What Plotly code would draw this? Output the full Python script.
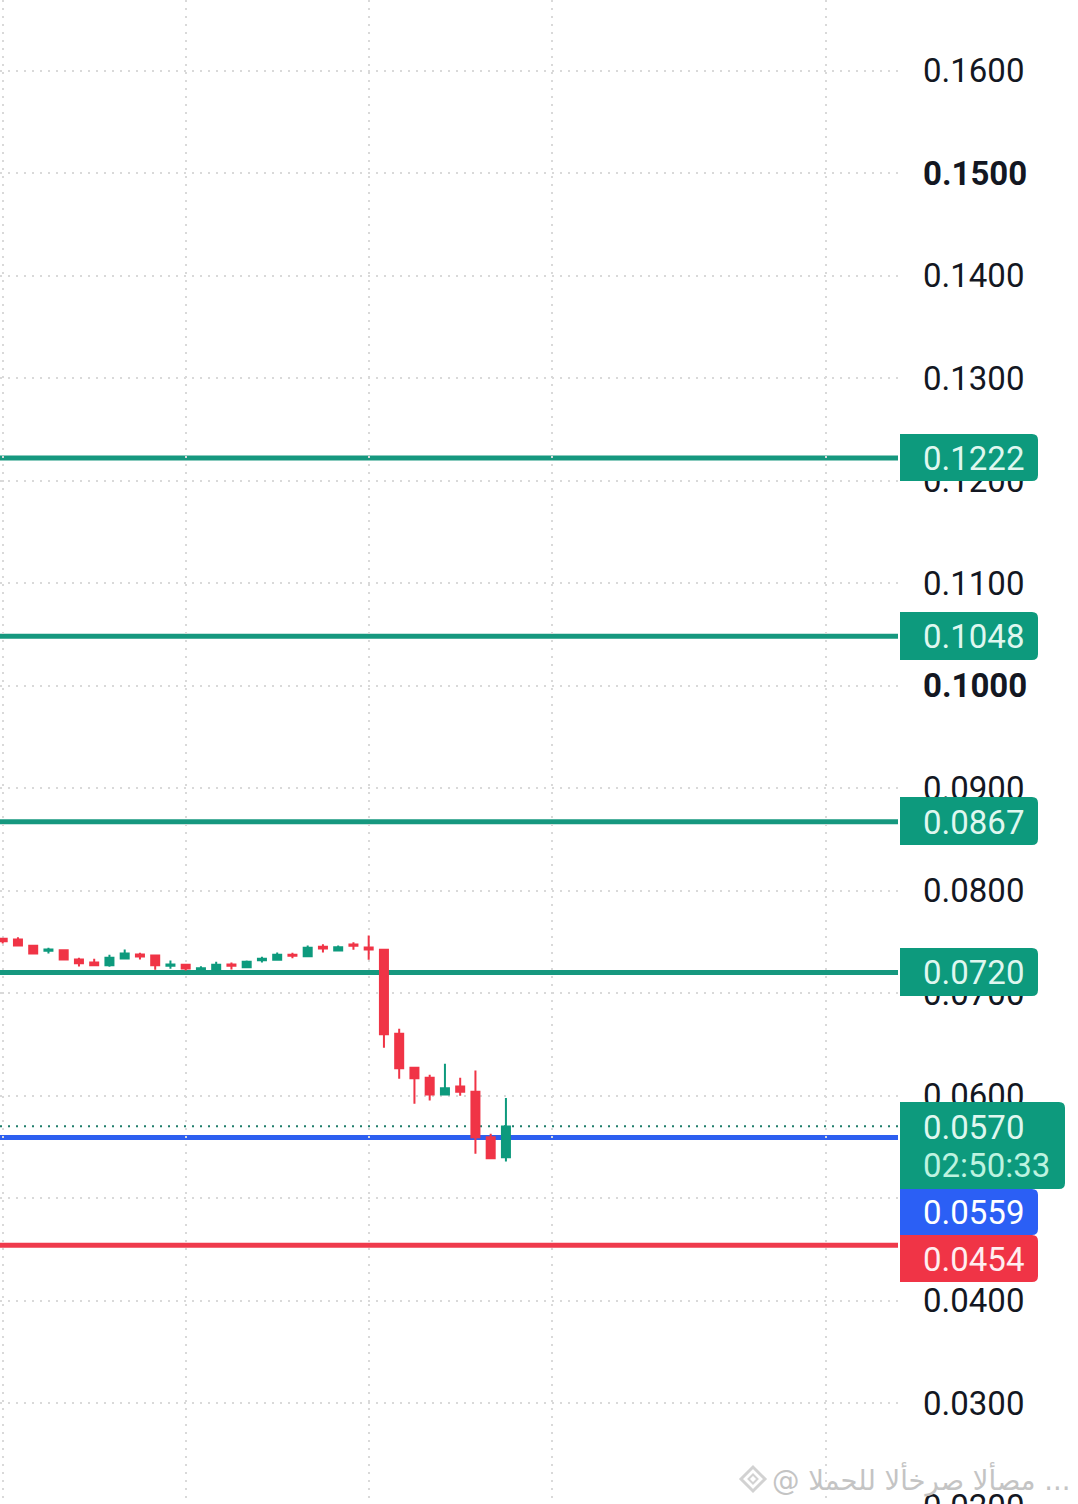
import plotly.graph_objects as go

# Velas (x = indice de vela)
velas = list(range(34))
apertura = [0.07529, 0.07522, 0.07461, 0.07412, 0.07418, 0.07327, 0.07298, 0.07272, 0.07337, 0.07376, 0.07366, 0.07266,
            0.07275, 0.07232, 0.07230, 0.07278, 0.07252, 0.07320, 0.07324, 0.07373, 0.07359, 0.07451, 0.07415, 0.07474,
            0.07444, 0.07422, 0.06602, 0.06270, 0.06173, 0.06010, 0.06088, 0.06036, 0.05593, 0.05398]
maximo = [0.07532, 0.07545, 0.07465, 0.07441, 0.07425, 0.07344, 0.07334, 0.07373, 0.07425, 0.07393, 0.07370, 0.07317,
          0.07285, 0.07262, 0.07305, 0.07298, 0.07317, 0.07354, 0.07395, 0.07393, 0.07464, 0.07476, 0.07464, 0.07496,
          0.07561, 0.07425, 0.06651, 0.06276, 0.06202, 0.06309, 0.06173, 0.06244, 0.05626, 0.05977]
minimo = [0.07483, 0.07462, 0.07384, 0.07386, 0.07317, 0.07259, 0.07269, 0.07256, 0.07335, 0.07327, 0.07227, 0.07236,
          0.07220, 0.07230, 0.07213, 0.07230, 0.07250, 0.07298, 0.07317, 0.07340, 0.07356, 0.07395, 0.07413, 0.07422,
          0.07324, 0.06465, 0.06163, 0.05919, 0.05951, 0.06000, 0.05997, 0.05431, 0.05388, 0.05356]
cierre = [0.07506, 0.07464, 0.07386, 0.07425, 0.07327, 0.07291, 0.07272, 0.07344, 0.07386, 0.07356, 0.07272, 0.07278,
          0.07239, 0.07242, 0.07275, 0.07266, 0.07305, 0.07334, 0.07373, 0.07363, 0.07441, 0.07435, 0.07447, 0.07461,
          0.07425, 0.06598, 0.06266, 0.06169, 0.06010, 0.06071, 0.06036, 0.05593, 0.05388, 0.05698]

# Ejes
precios_eje = [0.16, 0.15, 0.14, 0.13, 0.12, 0.11, 0.10, 0.09, 0.08, 0.07, 0.06, 0.05, 0.04, 0.03]
textos_eje = ['0.1600', '<b>0.1500</b>', '0.1400', '0.1300', '0.1200', '0.1100', '<b>0.1000</b>', '0.0900', '0.0800',
              '0.0700', '0.0600', '', '0.0400', '0.0300']
rejilla_x = [0, 12, 24, 36, 54]

# Niveles horizontales
niveles = [0.1222, 0.1048, 0.0867, 0.0720, 0.0559, 0.0454]
colores_nivel = ['#16987f', '#16987f', '#16987f', '#16987f', '#2d5ff0', '#ef3a4c']
precio_actual = 0.0570

VERDE = '#0d9a7d'
AZUL = '#2b5ff5'
ROJO = '#f03446'
W, H = 1078, 1504
BORDE = 898

fig = go.Figure()
fig.add_trace(go.Candlestick(
    x=velas, open=apertura, high=maximo, low=minimo, close=cierre,
    increasing=dict(line=dict(color=VERDE, width=2), fillcolor=VERDE),
    decreasing=dict(line=dict(color=ROJO, width=2), fillcolor=ROJO),
    whiskerwidth=0, hoverinfo='skip', showlegend=False
))

for nivel, color in zip(niveles, colores_nivel):
    fig.add_shape(type='line', xref='x domain', yref='y', x0=0, x1=1, y0=nivel, y1=nivel,
                  line=dict(color=color, width=5), layer='below')
fig.add_shape(type='line', xref='x domain', yref='y', x0=0, x1=1, y0=precio_actual, y1=precio_actual,
              line=dict(color='#1f7d6b', width=2, dash='2px,6px'), layer='below')


# Etiqueta de precio: esquina recta a la izquierda, redondeada a la derecha
def etiqueta(top, bottom, color, der=1038, izq=900, r=6):
    px = lambda v: v / W
    py = lambda v: 1 - v / H
    path = (f'M {px(izq)} {py(top)} L {px(der - r)} {py(top)} '
            f'Q {px(der)} {py(top)} {px(der)} {py(top + r)} '
            f'L {px(der)} {py(bottom - r)} Q {px(der)} {py(bottom)} {px(der - r)} {py(bottom)} '
            f'L {px(izq)} {py(bottom)} Z')
    fig.add_shape(type='path', xref='paper', yref='paper', path=path, fillcolor=color, line_width=0, layer='above')


def texto(y, t, color='#dff7ef', size=33, x=922, font='Roboto'):
    fig.add_annotation(xref='paper', yref='paper', x=x / W, y=1 - y / H, text=t, showarrow=False,
                       xanchor='left', yanchor='middle', align='left', borderpad=0,
                       font=dict(family=font, size=size, color=color))


etiqueta(434, 481, VERDE)
etiqueta(612, 660, VERDE)
etiqueta(797, 845, VERDE)
etiqueta(948, 996, VERDE)
etiqueta(1102, 1189, VERDE, der=1065)
etiqueta(1189, 1235, AZUL)
etiqueta(1235, 1282, ROJO)

texto(458, '0.1222')
texto(636, '0.1048')
texto(822, '0.0867')
texto(972, '0.0720')
texto(1127, '0.0570')
texto(1165, '02:50:33', color='#bdf3e0')
texto(1212, '0.0559', color='#ffffff')
texto(1259, '0.0454', color='#ffeef0')
# la marca 0.0200 queda medio cortada por el borde inferior
texto(1506, '0.0200', color='#131722')

# Marca de agua de Binance Square, letras forzadas de izquierda a derecha
marca = '@ المحلل الأخرص الأصم ...'
texto(1479, f'\u202d{marca}\u202c', color='#c4c4c4', size=27.5, x=771, font='DejaVu Sans')


def rombo(cx, cy, r, ancho):
    px = lambda v: v / W
    py = lambda v: 1 - v / H
    path = f'M {px(cx - r)} {py(cy)} L {px(cx)} {py(cy - r)} L {px(cx + r)} {py(cy)} L {px(cx)} {py(cy + r)} Z'
    fig.add_shape(type='path', xref='paper', yref='paper', path=path, line=dict(color='#d2d2d2', width=ancho),
                  layer='above')


rombo(753, 1479, 12, 3)
rombo(753, 1479, 4.5, 2)

fig.update_layout(
    width=W, height=H,
    margin=dict(l=0, r=0, t=0, b=0),
    paper_bgcolor='white', plot_bgcolor='white',
    showlegend=False, boxgap=0.25, hovermode=False,
    xaxis=dict(domain=[0, BORDE / W], range=[-0.177, 58.71], rangeslider=dict(visible=False),
               tickmode='array', tickvals=rejilla_x, showticklabels=False, ticks='',
               showgrid=True, gridcolor='#d9d9d9', griddash='2px,6px', gridwidth=2,
               zeroline=False, showline=False),
    yaxis=dict(range=[0.02015, 0.16688], side='right', anchor='x',
               tickmode='array', tickvals=precios_eje, ticktext=textos_eje,
               ticks='', ticklabelstandoff=24,
               tickfont=dict(family='Roboto', size=33, color='#131722'),
               showgrid=True, gridcolor='#d9d9d9', griddash='2px,6px', gridwidth=2,
               zeroline=False, showline=False, automargin=False)
)

fig.write_html('out.html', config=dict(displayModeBar=False),
               post_script="document.body.style.margin='0';")
